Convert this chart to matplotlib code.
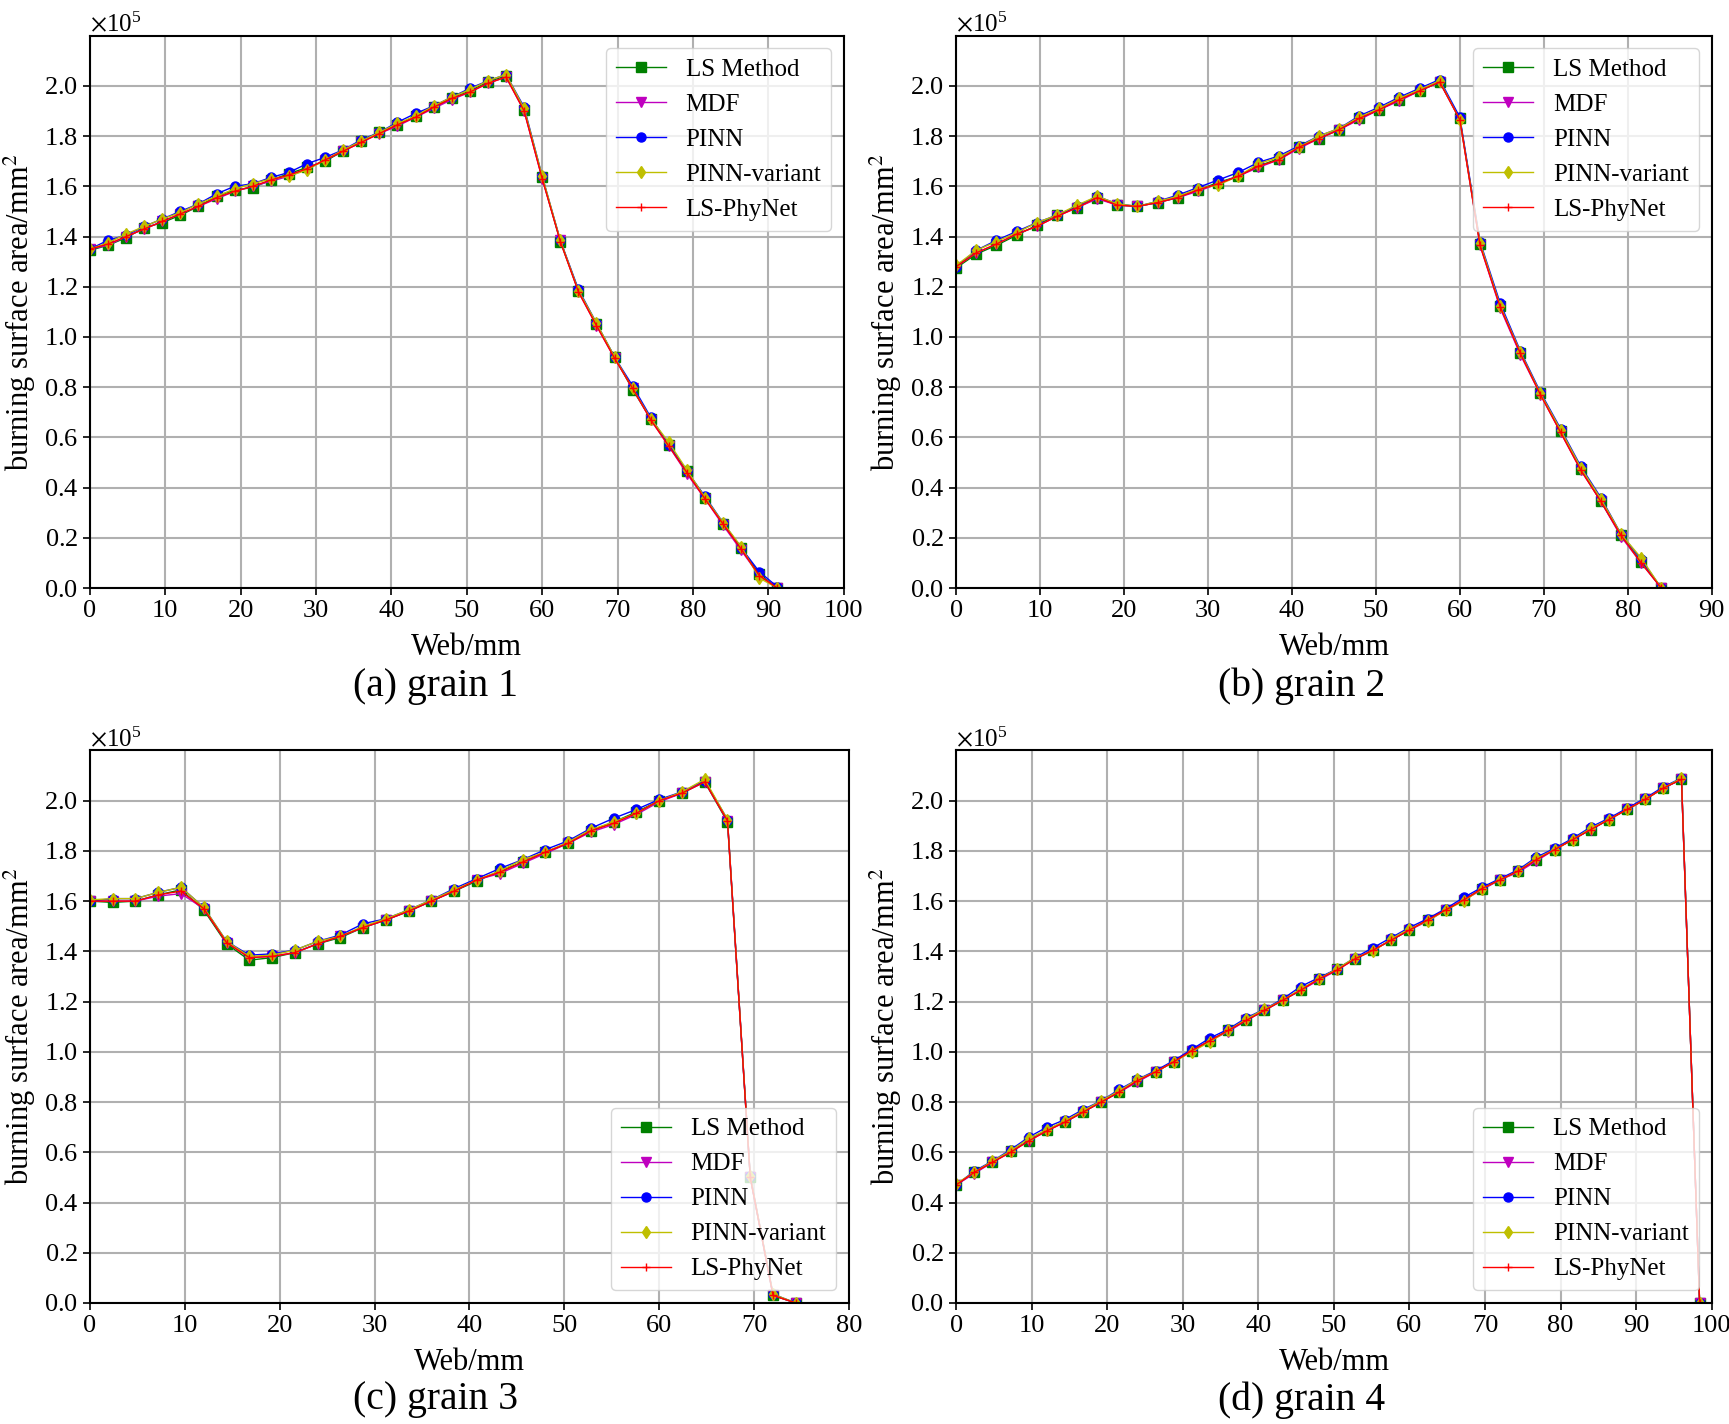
import matplotlib
matplotlib.use('Agg')
import matplotlib.pyplot as plt
import numpy as np
from matplotlib.ticker import ScalarFormatter

plt.rcParams['font.family'] = ['Liberation Serif', 'DejaVu Serif']
plt.rcParams['mathtext.fontset'] = 'stix'

# web positions (mm), shared grid
web = [0, 2.4, 4.8, 7.2, 9.6, 12, 14.4, 16.8, 19.2, 21.6, 24, 26.4, 28.8, 31.2, 33.6,
       36, 38.4, 40.8, 43.2, 45.6, 48, 50.4, 52.8, 55.2, 57.6, 60, 62.4, 64.8, 67.2,
       69.6, 72, 74.4, 76.8, 79.2, 81.6, 84, 86.4, 88.8, 91.2, 93.6, 96, 98.4]

methods = ['LS Method', 'MDF', 'PINN', 'PINN-variant', 'LS-PhyNet']

# burning surface area, units of 1e5 mm^2
g1_ls = [1.345, 1.365, 1.395, 1.435, 1.455, 1.485, 1.520, 1.560, 1.585, 1.595, 1.625, 1.650, 1.675,
         1.700, 1.740, 1.780, 1.815, 1.845, 1.880, 1.915, 1.950, 1.980, 2.015, 2.040, 1.905, 1.635,
         1.380, 1.185, 1.050, 0.920, 0.790, 0.675, 0.570, 0.465, 0.360, 0.255, 0.160, 0.055, 0.000]
g1_mdf = [1.350, 1.365, 1.400, 1.430, 1.460, 1.490, 1.520, 1.550, 1.580, 1.600, 1.620, 1.640, 1.670,
          1.705, 1.740, 1.775, 1.810, 1.840, 1.875, 1.910, 1.945, 1.975, 2.010, 2.035, 1.900, 1.630,
          1.385, 1.180, 1.045, 0.915, 0.795, 0.670, 0.565, 0.455, 0.355, 0.250, 0.150, 0.050, 0.000]
g1_pinn = [1.350, 1.385, 1.405, 1.440, 1.470, 1.500, 1.530, 1.570, 1.600, 1.610, 1.635, 1.655, 1.690,
           1.715, 1.745, 1.785, 1.815, 1.855, 1.890, 1.920, 1.955, 1.990, 2.020, 2.045, 1.915, 1.640,
           1.385, 1.190, 1.055, 0.920, 0.805, 0.680, 0.570, 0.465, 0.365, 0.260, 0.160, 0.065, 0.005]
g1_pv = [1.350, 1.375, 1.410, 1.440, 1.470, 1.495, 1.530, 1.560, 1.590, 1.610, 1.630, 1.640, 1.665,
         1.705, 1.745, 1.780, 1.815, 1.850, 1.880, 1.920, 1.955, 1.985, 2.020, 2.045, 1.910, 1.640,
         1.385, 1.185, 1.055, 0.920, 0.795, 0.675, 0.580, 0.470, 0.360, 0.260, 0.165, 0.040, 0.000]
g1_phy = [1.350, 1.370, 1.400, 1.430, 1.460, 1.490, 1.520, 1.555, 1.580, 1.600, 1.625, 1.645, 1.670,
          1.705, 1.740, 1.775, 1.810, 1.845, 1.875, 1.915, 1.950, 1.975, 2.010, 2.035, 1.900, 1.630,
          1.380, 1.180, 1.045, 0.915, 0.795, 0.670, 0.565, 0.460, 0.355, 0.255, 0.155, 0.050, 0.000]

g2_ls = [1.275, 1.330, 1.365, 1.405, 1.445, 1.485, 1.515, 1.555, 1.525, 1.520, 1.535, 1.555, 1.585,
         1.615, 1.640, 1.680, 1.710, 1.755, 1.790, 1.825, 1.870, 1.905, 1.945, 1.980, 2.015, 1.870,
         1.370, 1.125, 0.935, 0.775, 0.625, 0.475, 0.345, 0.210, 0.105, 0.000]
g2_mdf = [1.280, 1.335, 1.370, 1.410, 1.440, 1.480, 1.515, 1.550, 1.525, 1.520, 1.535, 1.555, 1.580,
          1.610, 1.640, 1.675, 1.705, 1.750, 1.790, 1.825, 1.865, 1.905, 1.940, 1.980, 2.015, 1.865,
          1.365, 1.115, 0.930, 0.770, 0.620, 0.470, 0.345, 0.205, 0.100, 0.000]
g2_pinn = [1.280, 1.345, 1.385, 1.420, 1.455, 1.485, 1.520, 1.560, 1.530, 1.520, 1.540, 1.565, 1.595,
           1.625, 1.655, 1.695, 1.720, 1.760, 1.800, 1.830, 1.880, 1.915, 1.955, 1.990, 2.025, 1.875,
           1.380, 1.135, 0.945, 0.780, 0.635, 0.485, 0.360, 0.215, 0.115, 0.000]
g2_pv = [1.285, 1.345, 1.380, 1.415, 1.455, 1.485, 1.525, 1.560, 1.530, 1.520, 1.540, 1.560, 1.590,
         1.605, 1.640, 1.690, 1.715, 1.755, 1.800, 1.830, 1.875, 1.910, 1.950, 1.985, 2.020, 1.865,
         1.375, 1.125, 0.940, 0.775, 0.630, 0.480, 0.355, 0.215, 0.120, 0.000]
g2_phy = [1.280, 1.335, 1.370, 1.410, 1.440, 1.480, 1.515, 1.555, 1.525, 1.520, 1.535, 1.555, 1.585,
          1.610, 1.640, 1.680, 1.705, 1.755, 1.790, 1.825, 1.870, 1.905, 1.945, 1.980, 2.015, 1.865,
          1.365, 1.120, 0.935, 0.770, 0.620, 0.470, 0.345, 0.210, 0.100, 0.000]

g3_ls = [1.600, 1.595, 1.600, 1.625, 1.645, 1.565, 1.430, 1.365, 1.375, 1.395, 1.430, 1.455, 1.495,
         1.525, 1.560, 1.600, 1.640, 1.680, 1.720, 1.755, 1.795, 1.830, 1.880, 1.915, 1.955, 2.000,
         2.030, 2.075, 1.915, 0.500, 0.030, 0.000]
g3_mdf = [1.600, 1.600, 1.600, 1.620, 1.630, 1.570, 1.435, 1.375, 1.380, 1.395, 1.430, 1.460, 1.495,
          1.525, 1.560, 1.600, 1.640, 1.685, 1.710, 1.750, 1.790, 1.830, 1.875, 1.905, 1.945, 1.995,
          2.030, 2.075, 1.920, 0.500, 0.030, 0.000]
g3_pinn = [1.600, 1.610, 1.610, 1.635, 1.655, 1.575, 1.440, 1.385, 1.390, 1.405, 1.440, 1.465, 1.510,
           1.530, 1.565, 1.605, 1.650, 1.690, 1.730, 1.765, 1.805, 1.840, 1.890, 1.930, 1.965, 2.005,
           2.035, 2.080, 1.925, 0.505, 0.035, 0.000]
g3_pv = [1.605, 1.610, 1.610, 1.635, 1.655, 1.575, 1.440, 1.380, 1.385, 1.405, 1.440, 1.460, 1.500,
         1.530, 1.565, 1.605, 1.645, 1.685, 1.720, 1.765, 1.795, 1.835, 1.885, 1.915, 1.950, 2.000,
         2.035, 2.085, 1.925, 0.505, 0.035, 0.000]
g3_phy = [1.600, 1.600, 1.600, 1.625, 1.640, 1.570, 1.435, 1.375, 1.380, 1.395, 1.430, 1.460, 1.495,
          1.525, 1.560, 1.600, 1.640, 1.685, 1.715, 1.755, 1.795, 1.830, 1.880, 1.910, 1.950, 2.000,
          2.030, 2.075, 1.920, 0.500, 0.030, 0.000]

g4_ls = [0.470, 0.520, 0.560, 0.605, 0.645, 0.690, 0.720, 0.760, 0.800, 0.840, 0.885, 0.920, 0.960,
         1.005, 1.045, 1.085, 1.125, 1.165, 1.205, 1.245, 1.290, 1.330, 1.370, 1.405, 1.445, 1.485,
         1.525, 1.565, 1.605, 1.650, 1.685, 1.720, 1.765, 1.805, 1.845, 1.885, 1.925, 1.965, 2.005,
         2.050, 2.085, 0.000]
g4_mdf = [0.470, 0.515, 0.560, 0.600, 0.645, 0.685, 0.720, 0.760, 0.800, 0.840, 0.880, 0.920, 0.960,
          1.005, 1.045, 1.080, 1.125, 1.165, 1.205, 1.245, 1.285, 1.325, 1.370, 1.405, 1.445, 1.485,
          1.520, 1.565, 1.605, 1.645, 1.685, 1.715, 1.760, 1.805, 1.845, 1.885, 1.925, 1.965, 2.005,
          2.050, 2.085, 0.000]
g4_pinn = [0.470, 0.525, 0.565, 0.610, 0.660, 0.700, 0.730, 0.770, 0.805, 0.850, 0.890, 0.925, 0.965,
           1.010, 1.055, 1.090, 1.135, 1.170, 1.210, 1.260, 1.295, 1.330, 1.375, 1.415, 1.455, 1.495,
           1.530, 1.570, 1.615, 1.655, 1.690, 1.725, 1.775, 1.810, 1.850, 1.895, 1.930, 1.970, 2.010,
           2.055, 2.090, 0.000]
g4_pv = [0.475, 0.520, 0.565, 0.605, 0.655, 0.690, 0.725, 0.765, 0.805, 0.845, 0.890, 0.920, 0.960,
         1.000, 1.040, 1.085, 1.130, 1.170, 1.205, 1.250, 1.290, 1.330, 1.375, 1.400, 1.450, 1.490,
         1.520, 1.565, 1.600, 1.650, 1.685, 1.720, 1.770, 1.805, 1.845, 1.890, 1.925, 1.965, 2.005,
         2.050, 2.090, 0.000]
g4_phy = [0.470, 0.520, 0.560, 0.600, 0.645, 0.685, 0.720, 0.760, 0.800, 0.840, 0.885, 0.920, 0.960,
          1.005, 1.045, 1.085, 1.125, 1.165, 1.205, 1.245, 1.290, 1.325, 1.370, 1.405, 1.445, 1.485,
          1.525, 1.565, 1.605, 1.650, 1.685, 1.720, 1.765, 1.805, 1.845, 1.885, 1.925, 1.965, 2.005,
          2.050, 2.085, 0.000]

grains = [
    ([g1_ls, g1_mdf, g1_pinn, g1_pv, g1_phy], 100, np.arange(0, 101, 10), 'upper right', '(a) grain 1'),
    ([g2_ls, g2_mdf, g2_pinn, g2_pv, g2_phy], 90, np.arange(0, 91, 10), 'upper right', '(b) grain 2'),
    ([g3_ls, g3_mdf, g3_pinn, g3_pv, g3_phy], 80, np.arange(0, 81, 10), 'lower right', '(c) grain 3'),
    ([g4_ls, g4_mdf, g4_pinn, g4_pv, g4_phy], 100, np.arange(0, 101, 10), 'lower right', '(d) grain 4'),
]

styles = [('g', 's', 6.5), ('m', 'v', 6.5), ('b', 'o', 6.5), ('y', 'd', 6.5), ('r', '+', 6)]

axes_pos = [[0.052, 0.587, 0.436, 0.388], [0.553, 0.587, 0.437, 0.388],
            [0.052, 0.085, 0.439, 0.388], [0.553, 0.085, 0.437, 0.388]]
caption_pos = [(0.252, 0.518), (0.753, 0.518), (0.252, 0.017), (0.753, 0.017)]

fig = plt.figure(figsize=(17.29, 14.24), dpi=100)

for i, (series, xmax, xt, loc, cap) in enumerate(grains):
    ax = fig.add_axes(axes_pos[i])
    for name, vals, (c, m, ms) in zip(methods, series, styles):
        ax.plot(web[:len(vals)], np.array(vals) * 1e5, color=c, marker=m, markersize=ms,
                linewidth=1, label=name)
    ax.set_xlim(0, xmax)
    ax.set_ylim(0, 2.2e5)
    ax.set_xticks(xt)
    ax.set_yticks(np.arange(0, 2.01e5, 0.2e5))
    fmt = ScalarFormatter(useMathText=True)
    fmt.set_powerlimits((0, 0))
    ax.yaxis.set_major_formatter(fmt)
    ax.yaxis.get_offset_text().set_fontsize(18)
    ax.tick_params(labelsize=19, width=1.2, length=5)
    ax.grid(True, color='#b0b0b0', linewidth=1.5)
    for s in ax.spines.values():
        s.set_linewidth(1.5)
    ax.set_xlabel('Web/mm', fontsize=22, labelpad=8)
    ax.set_ylabel('burning surface area/mm$^2$', fontsize=22)
    ax.legend(loc=loc, fontsize=18)
    fig.text(caption_pos[i][0], caption_pos[i][1], cap, fontsize=28.5, ha='center', va='center')

fig.savefig('out.png')
